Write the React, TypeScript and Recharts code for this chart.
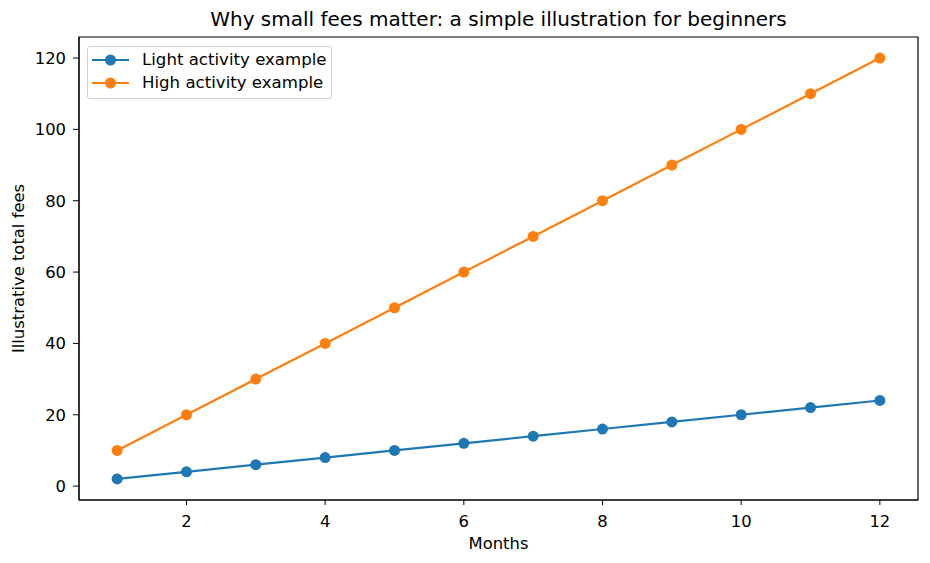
import React from 'react';
import {
  LineChart,
  Line,
  XAxis,
  YAxis,
  Legend,
  Label,
  ReferenceArea,
} from 'recharts';

const months = [1, 2, 3, 4, 5, 6, 7, 8, 9, 10, 11, 12];
const lightFees = [2, 4, 6, 8, 10, 12, 14, 16, 18, 20, 22, 24];
const highFees = [10, 20, 30, 40, 50, 60, 70, 80, 90, 100, 110, 120];
const xTicks = [2, 4, 6, 8, 10, 12];
const yTicks = [0, 20, 40, 60, 80, 100, 120];

const data = months.map((m, i) => ({ month: m, light: lightFees[i], high: highFees[i] }));

const FONT = '"DejaVu Sans", sans-serif';
const BLUE = '#1f77b4';
const ORANGE = '#ff7f0e';
const X_DOMAIN = [0.45, 12.55];
const Y_DOMAIN = [-3.9, 125.9];

const seriesList = [
  { key: 'light', name: 'Light activity example', color: BLUE },
  { key: 'high', name: 'High activity example', color: ORANGE },
];

const LegendBox = () => (
  <div
    style={{
      border: '1px solid #d0d0d0',
      borderRadius: 3,
      background: 'rgba(255,255,255,0.8)',
      padding: '1px 0 4px 4px',
      fontFamily: FONT,
      fontSize: 16.6,
      color: '#000',
      width: 245,
      boxSizing: 'border-box',
      whiteSpace: 'nowrap',
    }}
  >
    {seriesList.map((s) => (
      <div key={s.key} style={{ display: 'flex', alignItems: 'center', height: 23 }}>
        <svg width={37} height={14} style={{ marginRight: 13, flexShrink: 0 }}>
          <line x1={0} y1={7} x2={37} y2={7} stroke={s.color} strokeWidth={2.2} />
          <circle cx={18.5} cy={7} r={5.5} fill={s.color} />
        </svg>
        <span>{s.name}</span>
      </div>
    ))}
  </div>
);

const YLabel = ({ viewBox }: any) => {
  const cy = viewBox.y + viewBox.height / 2;
  return (
    <text
      x={18}
      y={cy}
      transform={`rotate(-90, 18, ${cy})`}
      textAnchor="middle"
      dominantBaseline="central"
      fontFamily={FONT}
      fontSize={16.4}
      fill="#000"
    >
      Illustrative total fees
    </text>
  );
};

const App: React.FC = () => {
  return (
    <div style={{ position: 'absolute', left: 0, top: 0, width: 930, height: 563, background: '#fff' }}>
      <div
        style={{
          position: 'absolute',
          top: 8,
          left: 79,
          width: 839,
          textAlign: 'center',
          fontFamily: FONT,
          fontSize: 20,
          lineHeight: '23px',
          color: '#000',
        }}
      >
        Why small fees matter: a simple illustration for beginners
      </div>
      <LineChart width={930} height={563} data={data} margin={{ top: 37, right: 12, left: 0, bottom: 0 }}>
        <XAxis
          dataKey="month"
          type="number"
          domain={X_DOMAIN}
          ticks={xTicks}
          allowDataOverflow
          height={63}
          tickSize={5}
          tickMargin={10}
          stroke="#000"
          tick={{ fill: '#000', fontSize: 16.4, fontFamily: FONT }}
        >
          <Label
            value="Months"
            position="insideBottom"
            offset={14}
            style={{ fill: '#000', fontSize: 16.4, fontFamily: FONT }}
          />
        </XAxis>
        <YAxis
          type="number"
          domain={Y_DOMAIN}
          ticks={yTicks}
          allowDataOverflow
          width={79}
          tickSize={6}
          tickMargin={7}
          stroke="#000"
          tick={{ fill: '#000', fontSize: 16.4, fontFamily: FONT }}
        >
          <Label content={<YLabel />} />
        </YAxis>
        <ReferenceArea
          x1={X_DOMAIN[0]}
          x2={X_DOMAIN[1]}
          y1={Y_DOMAIN[0]}
          y2={Y_DOMAIN[1]}
          fill="none"
          fillOpacity={0}
          stroke="#000"
          strokeWidth={1.2}
          ifOverflow="visible"
        />
        <Legend
          content={<LegendBox />}
          layout="horizontal"
          verticalAlign="middle"
          align="center"
          wrapperStyle={{ top: 46, left: 87, width: 'auto', height: 'auto' }}
        />
        <Line
          dataKey="light"
          name="Light activity example"
          stroke={BLUE}
          strokeWidth={2.2}
          dot={{ r: 5.5, fill: BLUE, stroke: BLUE, strokeWidth: 0 }}
          activeDot={false}
          isAnimationActive={false}
        />
        <Line
          dataKey="high"
          name="High activity example"
          stroke={ORANGE}
          strokeWidth={2.2}
          dot={{ r: 5.5, fill: ORANGE, stroke: ORANGE, strokeWidth: 0 }}
          activeDot={false}
          isAnimationActive={false}
        />
      </LineChart>
    </div>
  );
};

export default App;
